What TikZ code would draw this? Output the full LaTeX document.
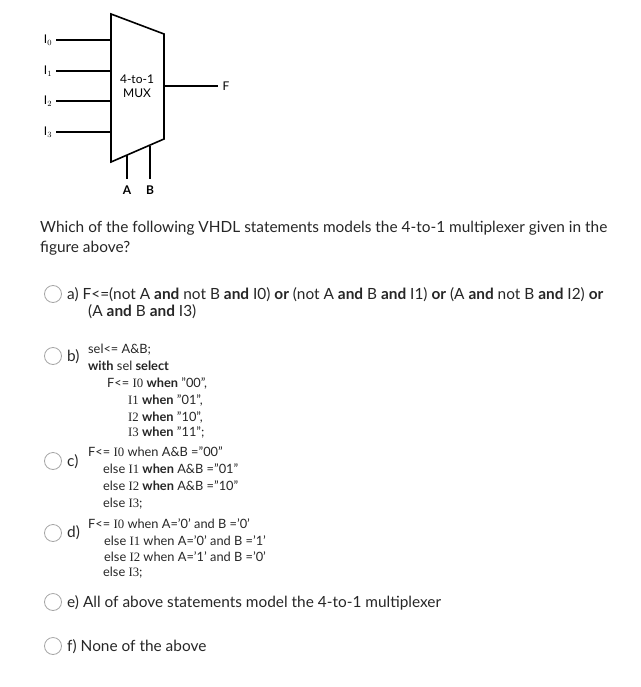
\documentclass[tikz,border=0pt]{standalone}
\usepackage{fontspec}
\setmainfont{Lato}
\newfontfamily\codefont{Liberation Serif}
\begin{document}
\begin{tikzpicture}[x=1pt,y=-1pt,
  wire/.style={line width=1.6pt},
  radio/.style={circle,draw=gray!70,line width=0.8pt,minimum size=17pt,inner sep=0pt},
  txt/.style={anchor=base west,inner sep=0pt,font=\fontsize{15.4}{17}\selectfont,text=black!85},
  code/.style={anchor=base west,inner sep=0pt,font=\fontsize{12.8}{14}\selectfont,text=black!85},
  lab/.style={inner sep=0pt,font=\fontsize{12}{14}\selectfont}]
\useasboundingbox (0,0) rectangle (640,687);
\draw[wire] (111,14) coordinate (tl) -- (164,34) coordinate (tr) -- (164,139) coordinate (br) -- (111,162) coordinate (bl) -- cycle;
\node[lab,align=center] (mux) at (137,86) {4-to-1\\MUX};
\foreach \i/\y in {0/40,1/71,2/101,3/132}{
  \coordinate (p\i) at (111,\y);
  \node[lab] (l\i) at (48,\y) {I$_{\i}$};
  \draw[wire] (l\i.east)++(4,0) -- (p\i);
}
\coordinate (pf) at (164,86);
\node[lab] (F) at (226,86) {F};
\draw[wire,shorten >=4pt] (pf) -- (F.west);
\coordinate (pa) at (127,155); \coordinate (pb) at (150,146);
\node[lab,font=\fontsize{12}{14}\selectfont\bfseries] (A) at (127,190) {A};
\node[lab,font=\fontsize{12}{14}\selectfont\bfseries] (B) at (150,190) {B};
\draw[wire,shorten >=6pt] (pa) -- (A.north); \draw[wire,shorten >=6pt] (pb) -- (B.north);

\node[txt] (q1) at (40,232) {Which of the following VHDL statements models the 4-to-1 multiplexer given in the};
\node[txt] (q2) at (40,252) {figure above?};

\node[radio] (ra) at (53,294) {};
\node[txt] (a1) at (67,299) {a) F<=(not A \textbf{and} not B \textbf{and} I0) \textbf{or} (not A \textbf{and} B \textbf{and} I1) \textbf{or} (A \textbf{and} not B \textbf{and} I2) \textbf{or}};
\node[txt] (a2) at (88,316) {(A \textbf{and} B \textbf{and} I3)};

\node[radio] (rb) at (53,356) {};
\node[txt] (bl) at (67,361) {b)};
\node[code] (b1) at (88,353) {sel<= A\&B;};
\node[code] (b2) at (88,370) {\textbf{with} sel \textbf{select}};
\node[code] (b3) at (107,387) {F<= {\codefont I0} \textbf{when} ''00'',};
\node[code] (b4) at (128,404) {{\codefont I1} \textbf{when} ''01'',};
\node[code] (b5) at (128,421) {{\codefont I2} \textbf{when} ''10'',};
\node[code] (b6) at (128,436) {{\codefont I3} \textbf{when} ''11'';};

\node[radio] (rc) at (53,461) {};
\node[txt] (cl) at (67,466) {c)};
\node[code] (c1) at (88,456) {F<= {\codefont I0} when A\&B =''00''};
\node[code] (c2) at (103,473) {else {\codefont I1} \textbf{when} A\&B =''01''};
\node[code] (c3) at (103,490) {else {\codefont I2} \textbf{when} A\&B =''10''};
\node[code] (c4) at (103,507) {else {\codefont I3};};

\node[radio] (rd) at (53,533) {};
\node[txt] (dl) at (67,537) {d)};
\node[code] (d1) at (88,528) {F<= {\codefont I0} when A='0' and B ='0'};
\node[code] (d2) at (104,545) {else {\codefont I1} when A='0' and B ='1'};
\node[code] (d3) at (104,561) {else {\codefont I2} when A='1' and B ='0'};
\node[code] (d4) at (103,576) {else {\codefont I3};};

\node[radio] (re) at (53,602) {};
\node[txt] (e1) at (67,607) {e) All of above statements model the 4-to-1 multiplexer};

\node[radio] (rf) at (53,646) {};
\node[txt] (f1) at (67,651) {f) None of the above};
\end{tikzpicture}
\end{document}
